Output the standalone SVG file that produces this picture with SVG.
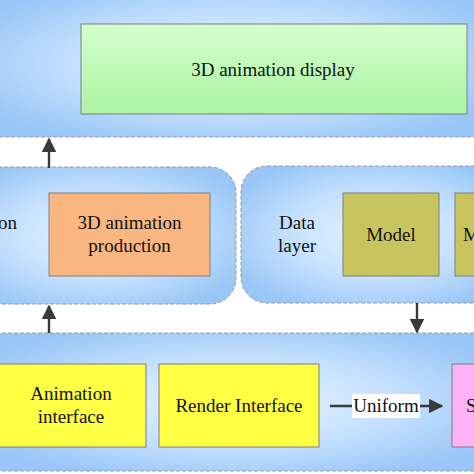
<svg xmlns="http://www.w3.org/2000/svg" width="474" height="474" viewBox="0 0 474 474">
<defs>
<radialGradient id="band" cx="0.5" cy="0.5" r="0.6">
<stop offset="0" stop-color="#e8f4ff"/>
<stop offset="0.55" stop-color="#c4e0ff"/>
<stop offset="1" stop-color="#98c6f6"/>
</radialGradient>
<linearGradient id="green" x1="0" y1="0" x2="0" y2="1">
<stop offset="0" stop-color="#d2ffcc"/>
<stop offset="1" stop-color="#acf4a2"/>
</linearGradient>
<marker id="ah" viewBox="0 0 10 10" refX="9" refY="5" markerWidth="6" markerHeight="6" orient="auto" markerUnits="strokeWidth">
<path d="M0,0 L10,5 L0,10 Z" fill="#3a3a3a"/>
</marker>
</defs>
<style>
.band{fill:url(#band);stroke:#9a9a9a;stroke-width:1;stroke-dasharray:4,2}
.box{stroke:#7f7f7f;stroke-width:1}
.t{font-family:"Liberation Serif","Times New Roman",serif;font-size:19px;fill:#111;text-anchor:middle}
.conn{stroke:#3a3a3a;stroke-width:2.4;fill:none}
</style>
<rect width="474" height="474" fill="#ffffff"/>
<g id="top-layer">
<rect class="band" x="-10" y="-10" width="494" height="147"/>
</g>
<g id="mid-left-layer">
<rect class="band" x="-40" y="167" width="276" height="137" rx="26" ry="26"/>
<text class="t" x="-2" y="229" style="text-anchor:start">on</text>
</g>
<g id="mid-right-layer">
<rect class="band" x="241" y="166" width="270" height="137" rx="26" ry="26"/>
<text class="t" x="297" y="229">Data</text>
<text class="t" x="297" y="252">layer</text>
</g>
<g id="bottom-layer">
<rect class="band" x="-10" y="333" width="494" height="138"/>
</g>
<g id="display">
<rect class="box" x="81" y="24" width="386" height="90" fill="url(#green)"/>
<text class="t" x="273" y="76">3D animation display</text>
</g>
<g id="production">
<rect class="box" x="49" y="193" width="161" height="83" fill="#f9b681"/>
<text class="t" x="129.5" y="229">3D animation</text>
<text class="t" x="129.5" y="252">production</text>
</g>
<g id="model">
<rect class="box" x="343" y="193" width="96" height="83" fill="#c9c55e"/>
<text class="t" x="391" y="241">Model</text>
</g>
<g id="model2">
<rect class="box" x="455" y="193" width="40" height="83" fill="#c9c55e"/>
<text class="t" x="463" y="241" style="text-anchor:start">M</text>
</g>
<g id="animation-interface">
<rect class="box" x="-10" y="364" width="156" height="83" fill="#ffff44"/>
<text class="t" x="71" y="400">Animation</text>
<text class="t" x="71" y="423">interface</text>
</g>
<g id="render-interface">
<rect class="box" x="159" y="364" width="160" height="83" fill="#ffff44"/>
<text class="t" x="239" y="412">Render Interface</text>
</g>
<g id="shader">
<rect class="box" x="452" y="364" width="40" height="83" fill="#fdb2f8"/>
<text class="t" x="466" y="412" style="text-anchor:start">S</text>
</g>
<g id="connectors">
<line class="conn" x1="49" y1="168" x2="49" y2="139" marker-end="url(#ah)"/>
<line class="conn" x1="49" y1="333" x2="49" y2="306" marker-end="url(#ah)"/>
<line class="conn" x1="417" y1="303" x2="417" y2="332" marker-end="url(#ah)"/>
<line class="conn" x1="330" y1="406" x2="442" y2="406" marker-end="url(#ah)"/>
<rect x="352" y="394" width="68" height="24" fill="#ffffff"/>
<text class="t" x="386" y="412">Uniform</text>
</g>
</svg>
